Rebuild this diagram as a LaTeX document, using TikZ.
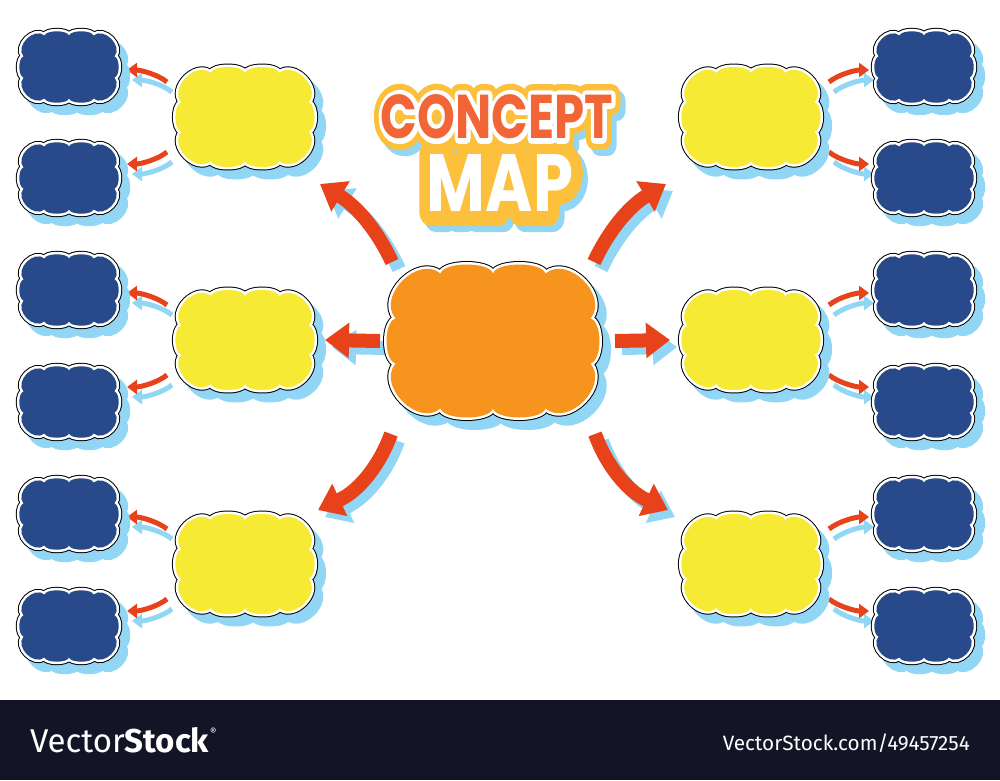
\documentclass[tikz,border=0pt]{standalone}
\usepackage{fontspec}
\usepackage{graphicx}
\usetikzlibrary{arrows.meta,calc}
\newfontfamily\titlefont{Poppins}
\newfontfamily\ttlthick{Poppins}[BoldFeatures={FakeBold=36}]
\newfontfamily\ttlthin{Poppins}[BoldFeatures={FakeBold=16}]
\newfontfamily\barfont{Fira Sans}
\definecolor{cblue}{HTML}{294A8A}
\definecolor{cyellow}{HTML}{F6EA34}
\definecolor{corange}{HTML}{F7941E}
\definecolor{shadowb}{HTML}{92D6F5}
\definecolor{cred}{HTML}{E8421B}
\definecolor{ttlorange}{HTML}{F26536}
\definecolor{ttlyellow}{HTML}{FCC03D}
\definecolor{barcol}{HTML}{131526}
\pgfdeclarelayer{back}
\pgfdeclarelayer{bg}
\pgfsetlayers{back,bg,main}
\newcommand\cloudpath{(-0.7,0.9) .. controls (-0.65,1.06) and (-0.05,1.06) .. (0,0.9) .. controls (0.05,1.06) and (0.65,1.06) .. (0.7,0.9) .. controls (1.0,1.15) and (1.55,0.6) .. (1.3,0.3) .. controls (1.46,0.25) and (1.46,-0.25) .. (1.3,-0.3) .. controls (1.55,-0.6) and (1.0,-1.15) .. (0.7,-0.9) .. controls (0.65,-1.06) and (0.05,-1.06) .. (0,-0.9) .. controls (-0.05,-1.06) and (-0.65,-1.06) .. (-0.7,-0.9) .. controls (-1.0,-1.15) and (-1.55,-0.6) .. (-1.3,-0.3) .. controls (-1.46,-0.25) and (-1.46,0.25) .. (-1.3,0.3) .. controls (-1.55,0.6) and (-1.0,1.15) .. (-0.7,0.9) -- cycle}
\newcommand\cloud[5]{%
  \begin{scope}[shift={(#2+8,#3+9)}, scale=#4]
    \path[fill=shadowb, draw=shadowb, line width=7pt, line join=round] \cloudpath;
  \end{scope}
  \begin{scope}[shift={(#2,#3)}, scale=#4]
    \path[draw=black, line width=7pt, line join=round] \cloudpath;
    \path[draw=white, line width=5pt, line join=round] \cloudpath;
    \path[fill=#5] \cloudpath;
  \end{scope}
  \node[inner sep=0pt, minimum width={2.9*#4}, minimum height={2.1*#4}] (#1) at (#2,#3) {};}
\tikzset{
  bigarr/.style={line width=14pt, -{Triangle[width=34pt,length=24pt]}},
  smallarr/.style={line width=5pt, -{Triangle[width=14pt,length=10pt]}},
  shadbig/.style={draw=shadowb, transform canvas={shift={(7pt,-7pt)}}},
  shadsmall/.style={draw=shadowb, transform canvas={shift={(5pt,-10pt)}}},
  ttl/.style={inner sep=0pt},
}
\newcommand\bigcurve[4]{%
  \draw[bigarr, shadbig] #1 .. controls #2 and #3 .. #4;
  \draw[bigarr, draw=cred] #1 .. controls #2 and #3 .. #4;}
\newcommand\smallcurve[4]{%
  \draw[smallarr, shadsmall] #1 .. controls #2 and #3 .. #4;
  \draw[smallarr, draw=cred] #1 .. controls #2 and #3 .. #4;}
\newcommand\ttlA[1]{\resizebox{232pt}{44pt}{#1\bfseries CONCEPT}}
\newcommand\ttlB[1]{\resizebox{146pt}{57pt}{#1\bfseries MAP}}
\begin{document}
\begin{tikzpicture}[x=1pt,y=-1pt]
\begin{pgfonlayer}{back}
  \path[fill=white] (0,0) rectangle (1000,700);
  \path[fill=barcol] (0,700) rectangle (1000,780);
\end{pgfonlayer}
\useasboundingbox (0,0) rectangle (1000,780);
% clouds
\cloud{O}{493}{341}{75}{corange}
\cloud{L1}{245}{117}{49}{cyellow}
\cloud{L2}{245}{340}{49}{cyellow}
\cloud{L3}{245}{564}{49}{cyellow}
\cloud{R1}{751}{117}{49}{cyellow}
\cloud{R2}{751}{340}{49}{cyellow}
\cloud{R3}{751}{564}{49}{cyellow}
\cloud{B1}{69}{67}{35}{cblue}
\cloud{B2}{69}{178}{35}{cblue}
\cloud{B3}{69}{290}{35}{cblue}
\cloud{B4}{69}{402}{35}{cblue}
\cloud{B5}{69}{514}{35}{cblue}
\cloud{B6}{69}{626}{35}{cblue}
\cloud{C1}{924}{67}{35}{cblue}
\cloud{C2}{924}{178}{35}{cblue}
\cloud{C3}{924}{290}{35}{cblue}
\cloud{C4}{924}{402}{35}{cblue}
\cloud{C5}{924}{514}{35}{cblue}
\cloud{C6}{924}{626}{35}{cblue}
\begin{pgfonlayer}{bg}
  % big arrows
  \bigcurve{([shift={(-101,-79)}]O.center)}{+(-14,-30)}{+(38,23)}{([shift={(75,67)}]L1.center)}
  \bigcurve{([shift={(101,-79)}]O.center)}{+(14,-30)}{+(-38,23)}{([shift={(-85,67)}]R1.center)}
  \bigcurve{([shift={(-102,93)}]O.center)}{+(-10,28)}{+(43,-20)}{([shift={(73,-54)}]L3.center)}
  \bigcurve{([shift={(102,93)}]O.center)}{+(10,28)}{+(-43,-20)}{([shift={(-83,-54)}]R3.center)}
  \draw[bigarr, shadbig] ([shift={(-113,0)}]O.center) -- ([shift={(80,0)}]L2.center);
  \draw[bigarr, draw=cred] ([shift={(-113,0)}]O.center) -- ([shift={(80,0)}]L2.center);
  \draw[bigarr, shadbig] ([shift={(122,0)}]O.center) -- ([shift={(-81,0)}]R2.center);
  \draw[bigarr, draw=cred] ([shift={(122,0)}]O.center) -- ([shift={(-81,0)}]R2.center);
  % small arrows
  \foreach \y in {L1, L2, L3}{
    \smallcurve{([shift={(-78,-35)}]\y.center)}{+(-10,-8)}{+(13,0)}{([shift={(-118,-47)}]\y.center)}
    \smallcurve{([shift={(-78,35)}]\y.center)}{+(-10,8)}{+(13,0)}{([shift={(-118,47)}]\y.center)}
  }
  \foreach \y in {R1, R2, R3}{
    \smallcurve{([shift={(78,-35)}]\y.center)}{+(10,-8)}{+(-13,0)}{([shift={(118,-47)}]\y.center)}
    \smallcurve{([shift={(78,35)}]\y.center)}{+(10,8)}{+(-13,0)}{([shift={(118,47)}]\y.center)}
  }
\end{pgfonlayer}
% title
\coordinate (tc) at (497,117);
\coordinate (tm) at (500,183);
\begin{scope}[line join=round]
\node[ttl, text=shadowb] (sa) at ([shift={(5,6)}]tc) {\ttlA{\ttlthick}};
\node[ttl, text=shadowb] (sb) at ([shift={(5,6)}]tm) {\ttlB{\ttlthick}};
\node[ttl, text=ttlyellow] (ya) at (tc) {\ttlA{\ttlthick}};
\node[ttl, text=ttlyellow] (yb) at (tm) {\ttlB{\ttlthick}};
\node[ttl, text=white] (wa) at (tc) {\ttlA{\ttlthin}};
\node[ttl, text=ttlorange] (ta) at (tc) {\ttlA{\titlefont}};
\node[ttl, text=white] (tb) at (tm) {\ttlB{\titlefont}};
\end{scope}
% footer
\node[ttl, anchor=south west, text=white] (logo) at (30,753) {\resizebox{179pt}{!}{\barfont Vector\bfseries Stock}};
\node[ttl, anchor=south west, text=white, font=\barfont\fontsize{10}{10}\selectfont] (reg) at (210,736) {®};
\node[ttl, anchor=south east, text=white] (url) at (970,753) {\resizebox{247pt}{!}{\barfont VectorStock.com/49457254}};
\end{tikzpicture}
\end{document}
